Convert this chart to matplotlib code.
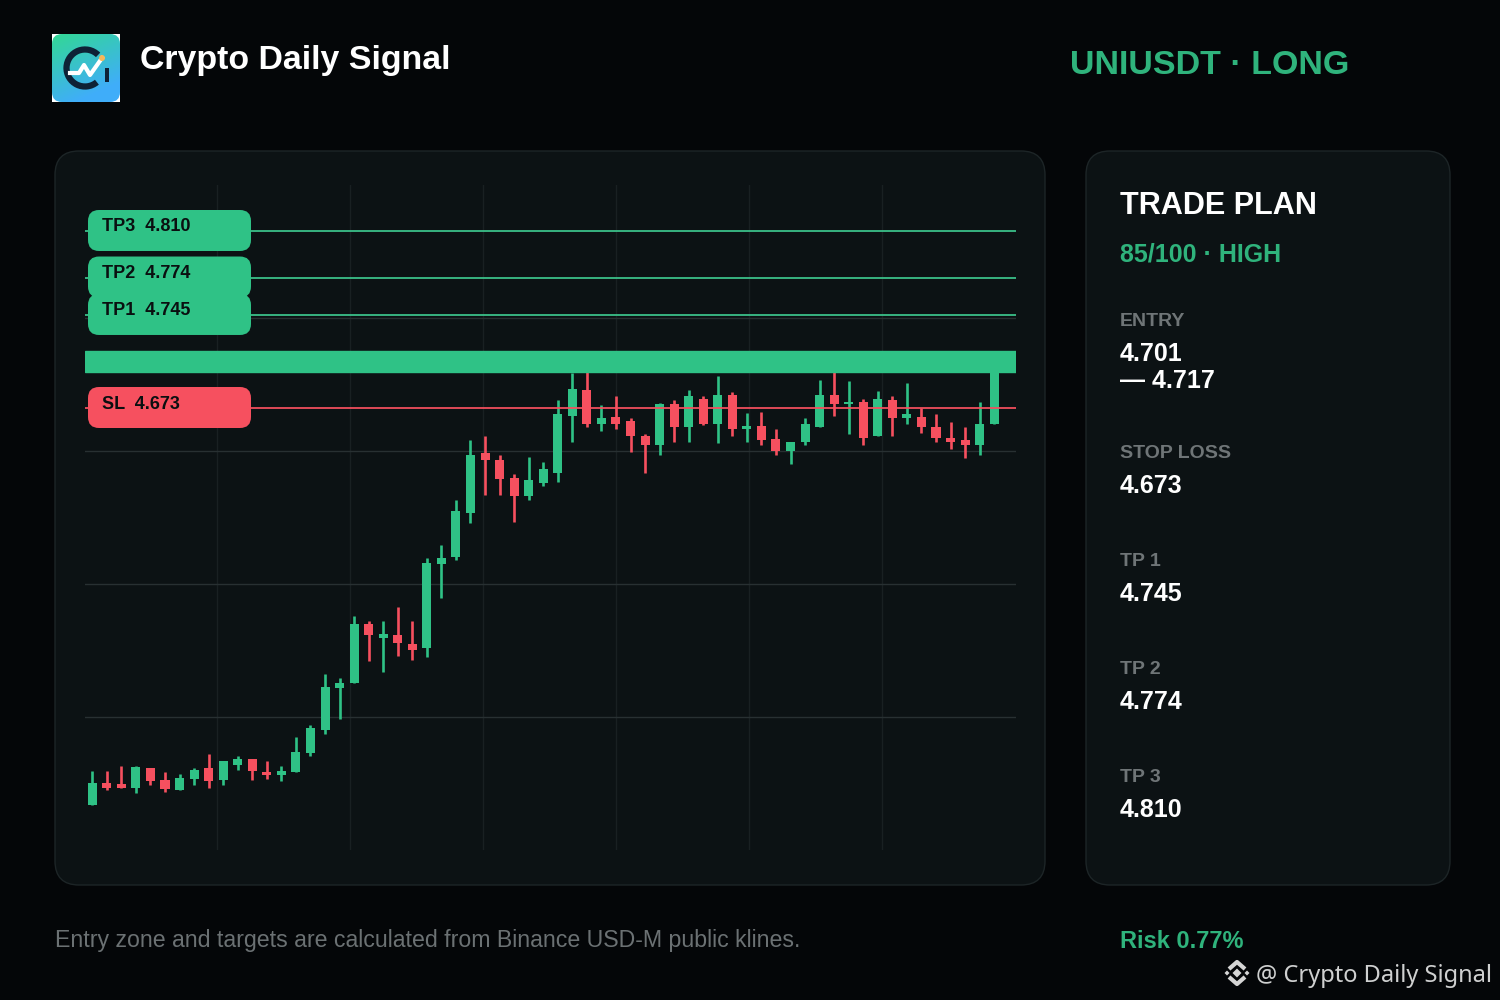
import matplotlib
matplotlib.use('Agg')
import matplotlib.pyplot as plt
import numpy as np
from matplotlib.patches import FancyBboxPatch, Polygon, Circle, Arc, Rectangle

plt.rcParams['font.family'] = ['Liberation Sans', 'DejaVu Sans']

GREEN = '#2fc286'
RED = '#f6505f'
TEXT_GREEN = '#2fb37c'
BG = '#040608'
CARD = '#0c1214'
CARD_EDGE = '#1d2527'

# candles
opens = [4.366, 4.383, 4.382, 4.379, 4.394, 4.385, 4.377, 4.386, 4.394, 4.385, 4.397, 4.401, 4.391, 4.389, 4.391, 4.406,
         4.424, 4.456, 4.460, 4.506, 4.495, 4.497, 4.490, 4.487, 4.552, 4.558, 4.592, 4.638, 4.633, 4.619, 4.605, 4.615,
         4.623, 4.667, 4.687, 4.661, 4.666, 4.663, 4.651, 4.644, 4.676, 4.658, 4.680, 4.661, 4.683, 4.657, 4.659, 4.649,
         4.640, 4.647, 4.658, 4.683, 4.676, 4.678, 4.651, 4.679, 4.665, 4.666, 4.658, 4.650, 4.648, 4.644, 4.661, 4.706]
highs = [4.392, 4.392, 4.396, 4.396, 4.394, 4.391, 4.390, 4.394, 4.405, 4.400, 4.404, 4.401, 4.400, 4.396, 4.418, 4.428,
         4.467, 4.464, 4.512, 4.508, 4.508, 4.519, 4.508, 4.557, 4.567, 4.602, 4.648, 4.651, 4.637, 4.622, 4.635, 4.631,
         4.679, 4.700, 4.703, 4.675, 4.682, 4.665, 4.653, 4.677, 4.679, 4.687, 4.682, 4.698, 4.685, 4.669, 4.670, 4.657,
         4.647, 4.665, 4.695, 4.701, 4.694, 4.680, 4.686, 4.682, 4.692, 4.673, 4.668, 4.662, 4.658, 4.678, 4.709, 4.7175]
lows = [4.366, 4.377, 4.379, 4.375, 4.381, 4.376, 4.377, 4.381, 4.379, 4.381, 4.393, 4.385, 4.386, 4.384, 4.391, 4.404,
        4.421, 4.432, 4.460, 4.477, 4.469, 4.481, 4.478, 4.480, 4.526, 4.555, 4.584, 4.606, 4.606, 4.585, 4.602, 4.613,
        4.616, 4.647, 4.658, 4.655, 4.657, 4.639, 4.623, 4.637, 4.647, 4.647, 4.660, 4.646, 4.651, 4.647, 4.644, 4.637,
        4.630, 4.644, 4.658, 4.667, 4.653, 4.644, 4.651, 4.651, 4.661, 4.654, 4.647, 4.641, 4.634, 4.637, 4.661, 4.704]
closes = [4.383, 4.379, 4.379, 4.395, 4.384, 4.378, 4.387, 4.393, 4.384, 4.400, 4.401, 4.392, 4.389, 4.392, 4.407, 4.425,
          4.457, 4.460, 4.506, 4.497, 4.498, 4.491, 4.486, 4.553, 4.557, 4.593, 4.637, 4.633, 4.618, 4.605, 4.617, 4.626,
          4.668, 4.688, 4.661, 4.665, 4.661, 4.651, 4.644, 4.676, 4.658, 4.682, 4.661, 4.683, 4.657, 4.659, 4.648, 4.640,
          4.647, 4.661, 4.683, 4.676, 4.678, 4.650, 4.680, 4.665, 4.668, 4.658, 4.650, 4.647, 4.644, 4.661, 4.706, 4.712]

entry_low = 4.701
entry_high = 4.717
level_names = ['TP3', 'TP2', 'TP1', 'SL']
level_values = [4.810, 4.774, 4.745, 4.673]

plan_labels = ['STOP LOSS', 'TP 1', 'TP 2', 'TP 3']
plan_values = ['4.673', '4.745', '4.774', '4.810']
plan_label_y = [454, 562, 670, 778]
plan_value_y = [486, 594, 702, 810]

fig = plt.figure(figsize=(15, 10), dpi=100, facecolor=BG)

# background layer in pixel coordinates
bg = fig.add_axes([0, 0, 1, 1], zorder=0)
bg.set_xlim(0, 1500)
bg.set_ylim(1000, 0)
bg.axis('off')

for x0, x1 in [(55, 1045), (1086, 1450)]:
    bg.add_patch(FancyBboxPatch((x0 + 24, 151 + 24), x1 - x0 - 48, 734 - 48, boxstyle='round,pad=24,rounding_size=24',
                                fc=CARD, ec=CARD_EDGE, lw=1))

# chart
ax = fig.add_axes([85 / 1500, 1 - 850 / 1000, 931 / 1500, 665 / 1000], zorder=1)
ax.patch.set_alpha(0)
ax.set_xlim(-0.5, 63.5)
ax.set_ylim(4.3309, 4.8456)
for s in ax.spines.values():
    s.set_visible(False)
ax.set_xticks([])
ax.set_yticks([])

for k in range(1, 7):
    ax.axvline(-0.56 + 64 * k / 7, color='#192022', lw=1, zorder=1)
for k in range(1, 5):
    ax.axhline(4.3309 + 0.5147 * k / 5, color='#283032', lw=1, zorder=1)

idx = np.arange(len(opens))
o = np.array(opens)
c = np.array(closes)
colors = [GREEN if b >= a else RED for a, b in zip(o, c)]
ax.vlines(idx, lows, highs, colors=colors, lw=1.9, zorder=2)
ax.bar(idx, np.abs(c - o), bottom=np.minimum(o, c), width=0.62, color=colors, zorder=3)

ax.axhspan(entry_low, entry_high, fc=GREEN, ec=GREEN, lw=1, zorder=4)
for name, v in zip(level_names, level_values):
    ax.axhline(v, color=RED if name == 'SL' else '#3cc48c', lw=1.4, alpha=0.9, zorder=5)

# pills and text on top, pixel coordinates again
top = fig.add_axes([0, 0, 1, 1], zorder=2)
top.set_xlim(0, 1500)
top.set_ylim(1000, 0)
top.axis('off')
top.patch.set_alpha(0)

for name, v in zip(level_names, level_values):
    py = 1000 - ax.transData.transform((0, v))[1]
    col = RED if name == 'SL' else GREEN
    top.add_patch(FancyBboxPatch((88 + 11, py - 21 + 11), 163 - 22, 41 - 22, boxstyle='round,pad=11,rounding_size=11',
                                 fc=col, ec='none', zorder=3))
    top.text(102, py - 4, f'{name}  {v:.3f}', fontsize=13, fontweight='bold', color='#0a0f10', va='center', zorder=4)

top.text(140, 61, 'Crypto Daily Signal', fontsize=24.4, fontweight='bold', color='white', va='center')
top.text(1070, 66, 'UNIUSDT · LONG', fontsize=24.5, fontweight='bold', color=TEXT_GREEN, va='center')

top.text(1120, 206, 'TRADE PLAN', fontsize=22.1, fontweight='bold', color='white', va='center')
top.text(1120, 254, '85/100 · HIGH', fontsize=18, fontweight='bold', color=TEXT_GREEN, va='center')
top.text(1120, 322, 'ENTRY', fontsize=14, fontweight='bold', color='#6f7577', va='center')
top.text(1120, 354, f'{entry_low:.3f}', fontsize=18, fontweight='bold', color='white', va='center')
top.text(1120, 381, f'— {entry_high:.3f}', fontsize=18, fontweight='bold', color='white', va='center')
for lab, val, ly, vy in zip(plan_labels, plan_values, plan_label_y, plan_value_y):
    top.text(1120, ly, lab, fontsize=14, fontweight='bold', color='#6f7577', va='center')
    top.text(1120, vy, val, fontsize=18, fontweight='bold', color='white', va='center')

top.text(55, 940, 'Entry zone and targets are calculated from Binance USD-M public klines.', fontsize=16.7,
         color='#6b7173', va='center')
top.text(1120, 941, 'Risk 0.77%', fontsize=17, fontweight='bold', color=TEXT_GREEN, va='center')
top.text(1256, 976, '@ Crypto Daily Signal', fontsize=17, family=['Noto Sans', 'DejaVu Sans'], color='#cfd0d0', va='center')

# watermark diamonds
for cx, cy, r in [(1237, 973, 4.5), (1227, 973, 2.5), (1247, 973, 2.5)]:
    top.add_patch(Polygon([(cx - r, cy), (cx, cy - r), (cx + r, cy), (cx, cy + r)], fc='#d5d5d5', ec='none'))
top.plot([1229, 1237, 1245], [969, 962, 969], color='#d5d5d5', lw=3, solid_capstyle='butt')
top.plot([1229, 1237, 1245], [977, 984, 977], color='#d5d5d5', lw=3, solid_capstyle='butt')

# logo
top.add_patch(Rectangle((52, 34), 68, 68, fc='white', ec='none'))
grad = np.linspace(0, 1, 68)
gx, gy = np.meshgrid(grad, grad)
g = np.clip((1 - gx) * 0.4 + (1 - gy) * 0.9 - 0.25, 0, 1)[..., None]
img = (1 - g) * np.array([0.25, 0.68, 0.98]) + g * np.array([0.2, 0.84, 0.6])
img = np.clip(img, 0, 1)
im = top.imshow(img, extent=(52, 120, 102, 34), aspect='auto', zorder=1)
clip = FancyBboxPatch((52 + 10, 34 + 10), 48, 48, boxstyle='round,pad=10,rounding_size=10', fc='none', ec='none',
                      transform=top.transData)
top.add_patch(clip)
im.set_clip_path(clip)
top.set_xlim(0, 1500)
top.set_ylim(1000, 0)
top.add_patch(Arc((85, 68), 37, 37, theta1=50, theta2=315, color='#0e2136', lw=4.5, zorder=2))
top.plot([70, 79, 84, 90, 102], [73, 73, 65, 75, 58], color='white', lw=3, zorder=3)
top.add_patch(Circle((102, 58), 3, fc='#f5b85a', ec='none', zorder=3))
top.add_patch(Rectangle((105, 68), 3.5, 14, fc='#0e2136', ec='none', zorder=3))

fig.savefig('out.png', dpi=100, facecolor=BG)
